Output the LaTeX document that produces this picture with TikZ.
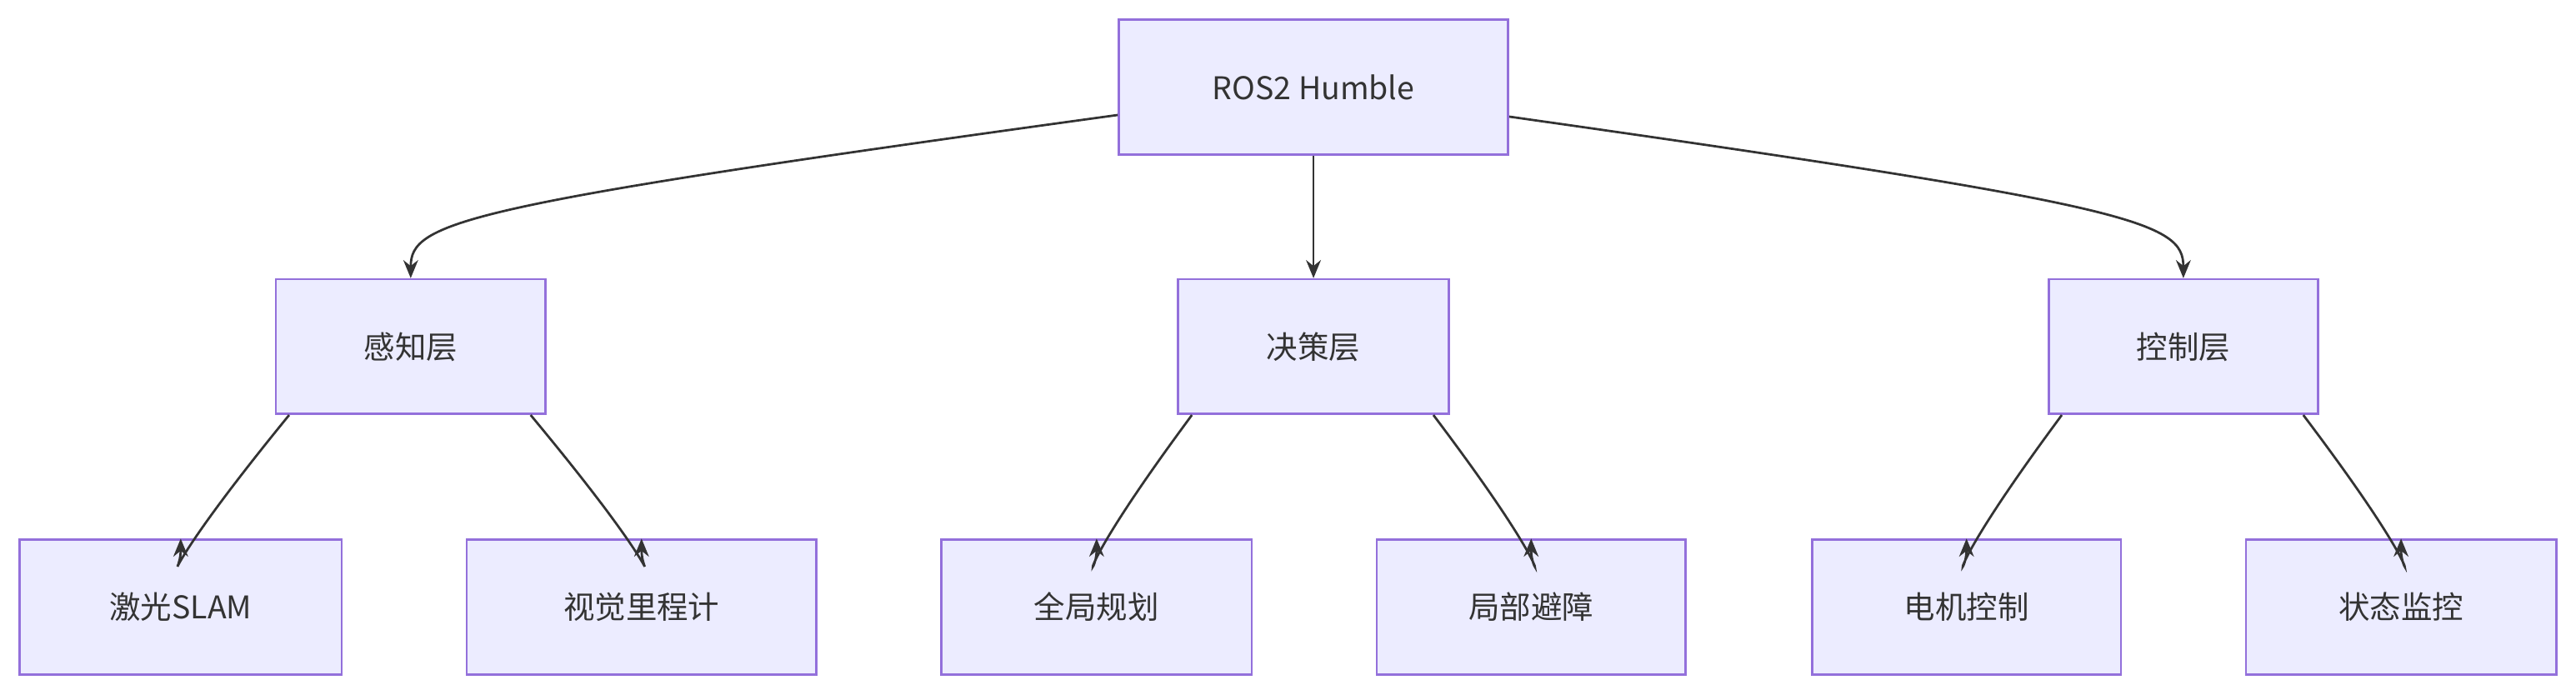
\documentclass[tikz,border=0pt]{standalone}
\usepackage{fontspec}
\setmainfont{Noto Sans CJK SC}
\usetikzlibrary{arrows.meta}
\definecolor{nfill}{HTML}{ECECFF}
\definecolor{nline}{HTML}{9370DB}
\definecolor{ink}{HTML}{333333}
\begin{document}
\begin{tikzpicture}[x=1pt,y=-1pt,
  box/.style={draw=nline,fill=nfill,line width=1.3pt,text=ink,font=\fontsize{19}{22}\selectfont,inner sep=0pt,minimum height=82pt},
  edge/.style={draw=ink,line width=1.4pt,-{Stealth[length=11pt,width=9pt]}}]
\useasboundingbox (0,0) rectangle (1568,423);
\node[box,minimum width=237pt] (root) at (799.5,53) {ROS2 Humble};
\node[box,minimum width=164pt] (p) at (250,211) {感知层};
\node[box,minimum width=165pt] (d) at (799.5,211) {决策层};
\node[box,minimum width=164pt] (c) at (1329,211) {控制层};
\node[box,minimum width=196pt] (p1) at (110,369.5) {激光SLAM};
\node[box,minimum width=213pt] (p2) at (390.5,369.5) {视觉里程计};
\node[box,minimum width=189pt] (d1) at (667.5,369.5) {全局规划};
\node[box,minimum width=188pt] (d2) at (932,369.5) {局部避障};
\node[box,minimum width=188pt] (c1) at (1197,369.5) {电机控制};
\node[box,minimum width=189pt] (c2) at (1461.5,369.5) {状态监控};
\draw[edge] ([yshift=-17pt]root.west) .. controls (280,125) and (250,135) .. (p.north);
\draw[edge] (root.south) -- (d.north);
\draw[edge] ([yshift=-18pt]root.east) .. controls (1300,125) and (1329,135) .. (c.north);
\foreach \a/\l/\r in {p/p1/p2,d/d1/d2,c/c1/c2}{
  \draw[edge] ([xshift=-74pt]\a.south) .. controls ([xshift=-20pt,yshift=-30pt]\l.north) and ([yshift=-25pt]\l.north) .. (\l.north);
  \draw[edge] ([xshift=73pt]\a.south) .. controls ([xshift=20pt,yshift=-30pt]\r.north) and ([yshift=-25pt]\r.north) .. (\r.north);
}
\end{tikzpicture}
\end{document}
